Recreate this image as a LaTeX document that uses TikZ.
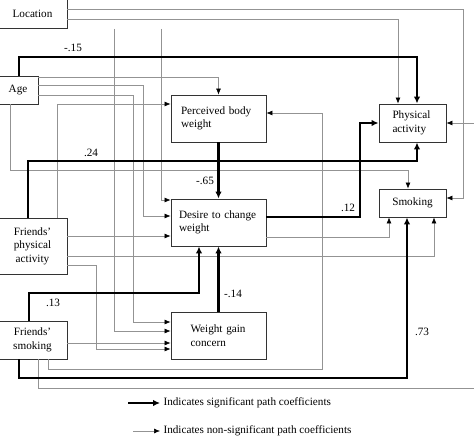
\documentclass[tikz,border=0pt]{standalone}
\usepackage{fontspec}
\setmainfont{Liberation Serif}
\usetikzlibrary{arrows.meta}

\begin{document}
\begin{tikzpicture}[x=1pt,y=-1pt,every node/.style={font=\fontsize{11.2}{13.6}\selectfont},
  box/.style={draw=black!80,line width=0.9pt,inner sep=0pt,minimum width=#1},
  lbox/.style={box=95,align=left,text width=#1,inner xsep={(95pt-#1)/2}},
  sig/.style={line width=2.3pt,-{Latex[length=7pt,width=6.5pt]}},
  ns/.style={gray!85,line width=0.6pt,-{Latex[length=6pt,width=5pt,black]}}]
\useasboundingbox (0,0) rectangle (474,437);
% left column
\node[box=69,minimum height=29] (Location) at (32.5,14) {Location};
\node[box=40,minimum height=28] (Age) at (18,90) {Age};
\node[box=69,minimum height=56,align=center] (FPA) at (32.5,246) {Friends'\\physical\\activity};
\node[box=69,minimum height=38,align=center] (FS) at (32.5,340) {Friends'\\smoking};
% middle and right
\node[lbox=75,minimum height=47] (PBW) at (218.5,118.5) {Perceived body\\weight};
\node[lbox=79,minimum height=47] (Desire) at (218.5,222.5) {Desire to change\\weight};
\node[lbox=56,minimum height=47] (WGC) at (218.5,335.5) {Weight gain\\concern};
\node[box=67,minimum height=38,align=left,text width=40,inner xsep=13.5] (PA) at (412.5,123) {Physical\\activity};
\node[box=67,minimum height=28] (Smoking) at (412.5,203) {Smoking};
% non-significant paths
\draw[ns] (Location.east |- 0,9) -| (463,198) -- (Smoking.east |- 0,198);
\draw[ns] (Location.east |- 0,19) -| (398,0 |- PA.north);
\draw[ns] (114,0 |- Location.south) |- (WGC.west |- 0,331);
\draw[ns] (161,0 |- Location.south) |- (Desire.west |- 0,200);
\draw[ns] (Age.east |- 0,77) -| (PBW.north);
\draw[ns] (Age.east |- 0,85) -| (143,216) -- (Desire.west |- 0,216);
\draw[ns] (Age.east |- 0,95) -| (133,322) -- (WGC.west |- 0,322);
\draw[ns] (10,0 |- Age.south) |- (408,170) -- (408,0 |- Smoking.north);
\draw[ns] (57,0 |- FPA.north) |- (PBW.west |- 0,104);
\draw[ns] (FPA.east |- 0,236) -- (Desire.west |- 0,236);
\draw[ns] (FPA.east |- 0,256) -| (434,0 |- Smoking.south);
\draw[ns] (FPA.east |- 0,265) -| (96,349) -- (WGC.west |- 0,349);
\draw[ns] (FS.east |- 0,343) -- (WGC.west |- 0,343);
\draw[ns] (48,0 |- FS.south) |- (322,369) |- (PBW.east |- 0,113);
\draw[ns] (38,0 |- FS.south) |- (480,388) |- (PA.east);
\draw[ns] (Desire.east |- 0,237) -| (389,0 |- Smoking.south);
% significant paths
\draw[sig] (19,0 |- Age.north) |- (417,57) -- (417,0 |- PA.north);
\draw[sig] (28,0 |- FPA.north) |- (417,161) -- (417,0 |- PA.south);
\draw[sig] (PBW.south) -- (Desire.north);
\draw[sig] (Desire.east |- 0,217) -| (360,123) -- (PA.west);
\draw[sig] (29,0 |- FS.north) |- (199,293) -- (199,0 |- Desire.south);
\draw[sig] (WGC.north) -- (Desire.south);
\draw[sig] (19,0 |- FS.south) |- (407,378) -- (407,0 |- Smoking.south);
\foreach \v/\x/\y [count=\k] in {-.15/73/48,.24/91/153,-.65/205/181,.12/348/208,.13/53/303,-.14/233/294,.73/422/332}
  \node (coef\k) at (\x,\y) {\v};
% legend
\node[anchor=west] (sigtxt) at (160,403) {Indicates significant path coefficients};
\node[anchor=west] (nstxt) at (160,431) {Indicates non-significant path coefficients};
\coordinate (sigstart) at (128,403);
\coordinate (nsstart) at (133,431);
\draw[sig] (sigstart) -- (sigtxt.west);
\draw[ns] (nsstart) -- (nstxt.west);
\end{tikzpicture}
\end{document}
